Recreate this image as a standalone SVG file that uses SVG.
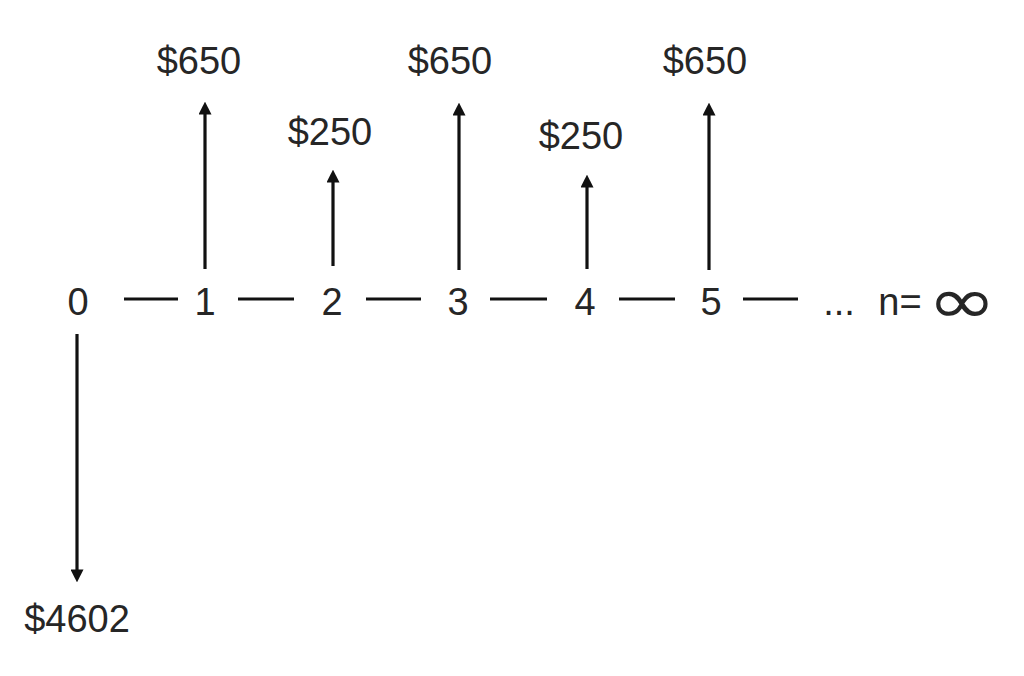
<svg xmlns="http://www.w3.org/2000/svg" width="1024" height="676" viewBox="0 0 1024 676">
<style>
.t{font-family:"Liberation Sans","Open Sans",sans-serif;font-size:38px;fill:#262626;text-anchor:middle}
.c{stroke:#111;stroke-width:3.2;fill:none}
.d{stroke:#111;stroke-width:3;fill:none}
</style>
<defs>
<marker id="ah" markerUnits="userSpaceOnUse" markerWidth="13" markerHeight="13" viewBox="0 0 10 10" refX="2" refY="5" orient="auto">
<path d="M0,0 L10,5 L0,10 z" fill="#111"/>
</marker>
</defs>
<rect width="1024" height="676" fill="#fff"/>
<g id="connectors">
<line class="c" x1="205" y1="269" x2="205" y2="112" marker-end="url(#ah)"/>
<line class="c" x1="333" y1="266" x2="333" y2="180" marker-end="url(#ah)"/>
<line class="c" x1="459" y1="270" x2="459" y2="113" marker-end="url(#ah)"/>
<line class="c" x1="587" y1="269" x2="587" y2="185" marker-end="url(#ah)"/>
<line class="c" x1="709" y1="270" x2="709" y2="113" marker-end="url(#ah)"/>
<line class="c" x1="77" y1="334" x2="77" y2="572" marker-end="url(#ah)"/>
<line class="d" x1="124" y1="299" x2="178" y2="299"/>
<line class="d" x1="238" y1="299" x2="294" y2="299"/>
<line class="d" x1="366" y1="299" x2="421" y2="299"/>
<line class="d" x1="490" y1="299" x2="547" y2="299"/>
<line class="d" x1="619" y1="299" x2="675" y2="299"/>
<line class="d" x1="743" y1="299" x2="798" y2="299"/>
</g>
<g id="t0"><text class="t" x="78" y="315">0</text></g>
<g id="t1"><text class="t" x="205" y="315">1</text></g>
<g id="t2"><text class="t" x="332" y="315">2</text></g>
<g id="t3"><text class="t" x="458" y="315">3</text></g>
<g id="t4"><text class="t" x="585" y="315">4</text></g>
<g id="t5"><text class="t" x="711" y="315">5</text></g>
<g id="tn">
<text class="t" x="839" y="315">...</text>
<text class="t" x="900" y="315">n=</text>
<text transform="translate(962,323) scale(1.3,1)" x="0" y="0" style="font-family:'DejaVu Sans',sans-serif;font-size:64px;fill:#262626;text-anchor:middle">∞</text>
</g>
<g id="c1"><text class="t" x="199" y="74">$650</text></g>
<g id="c2"><text class="t" x="330" y="145">$250</text></g>
<g id="c3"><text class="t" x="450" y="74">$650</text></g>
<g id="c4"><text class="t" x="581" y="149">$250</text></g>
<g id="c5"><text class="t" x="705" y="74">$650</text></g>
<g id="c0"><text class="t" x="77" y="632">$4602</text></g>
</svg>
